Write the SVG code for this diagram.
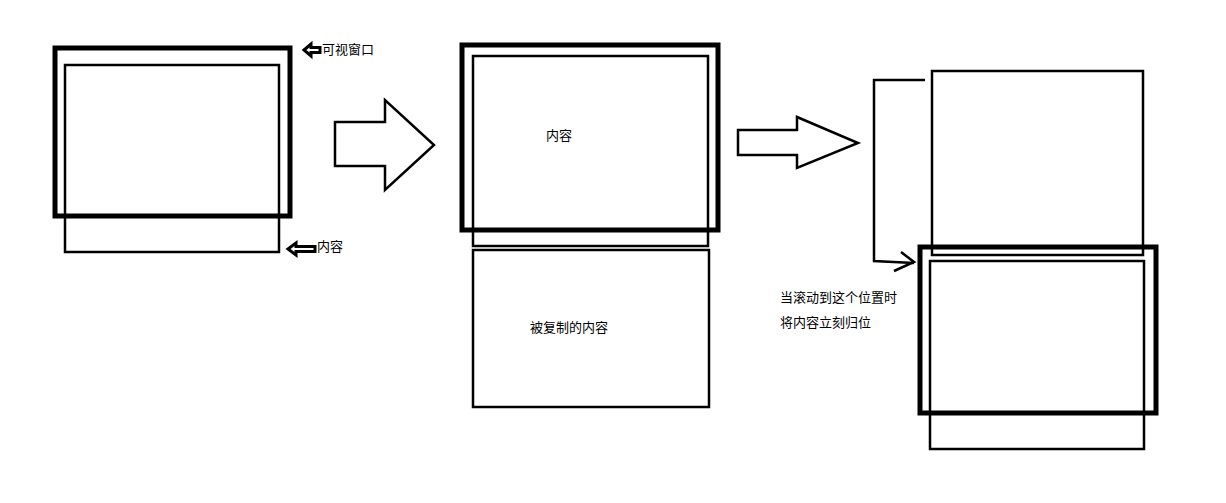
<svg xmlns="http://www.w3.org/2000/svg" width="1226" height="503" viewBox="0 0 1226 503">
<style>
.t{fill:none;stroke:#000;stroke-width:5}
.n{fill:none;stroke:#000;stroke-width:2.5}
.a{fill:#fff;stroke:#000;stroke-width:3}
text{font-family:"Noto Sans CJK SC",sans-serif;font-size:13px;fill:#000}
</style>
<rect width="1226" height="503" fill="#fff"/>
<g id="panel1">
<rect class="t" x="55" y="48" width="235" height="168"/>
<rect class="n" x="65" y="65" width="214" height="187"/>
<polygon class="a" points="304,50 311,44 311,47.5 320,47.5 320,52.5 311,52.5 311,56"/>
<text x="322" y="54">可视窗口</text>
<polygon class="a" points="288,249 296,243 296,246.5 315,246.5 315,251.5 296,251.5 296,255"/>
<text x="317" y="251">内容</text>
</g>
<g id="arrow1"><polygon class="n" points="335,122 385,122 385,100 434,145 385,190 385,166 335,166"/></g>
<g id="panel2">
<rect class="t" x="462" y="45" width="256" height="185"/>
<rect class="n" x="473" y="56" width="235" height="190"/>
<rect class="n" x="473" y="250" width="236" height="157"/>
<text x="546" y="140">内容</text>
<text x="530" y="332">被复制的内容</text>
</g>
<g id="arrow2"><polygon class="n" points="738,130 797,130 797,117 858,143 797,168 797,155 738,155"/></g>
<g id="panel3">
<rect class="n" x="932" y="71" width="211" height="184"/>
<rect class="n" x="930" y="261" width="214" height="188"/>
<rect class="t" x="920" y="247" width="236" height="166"/>
<text x="780" y="302">当滚动到这个位置时</text>
<text x="780" y="327">将内容立刻归位</text>
</g>
<g id="connectors">
<polyline class="n" points="925,80 874,80 874,261 914,263"/>
<polyline class="n" stroke-width="3" points="901,252 914,262 894,271"/>
</g>
</svg>
